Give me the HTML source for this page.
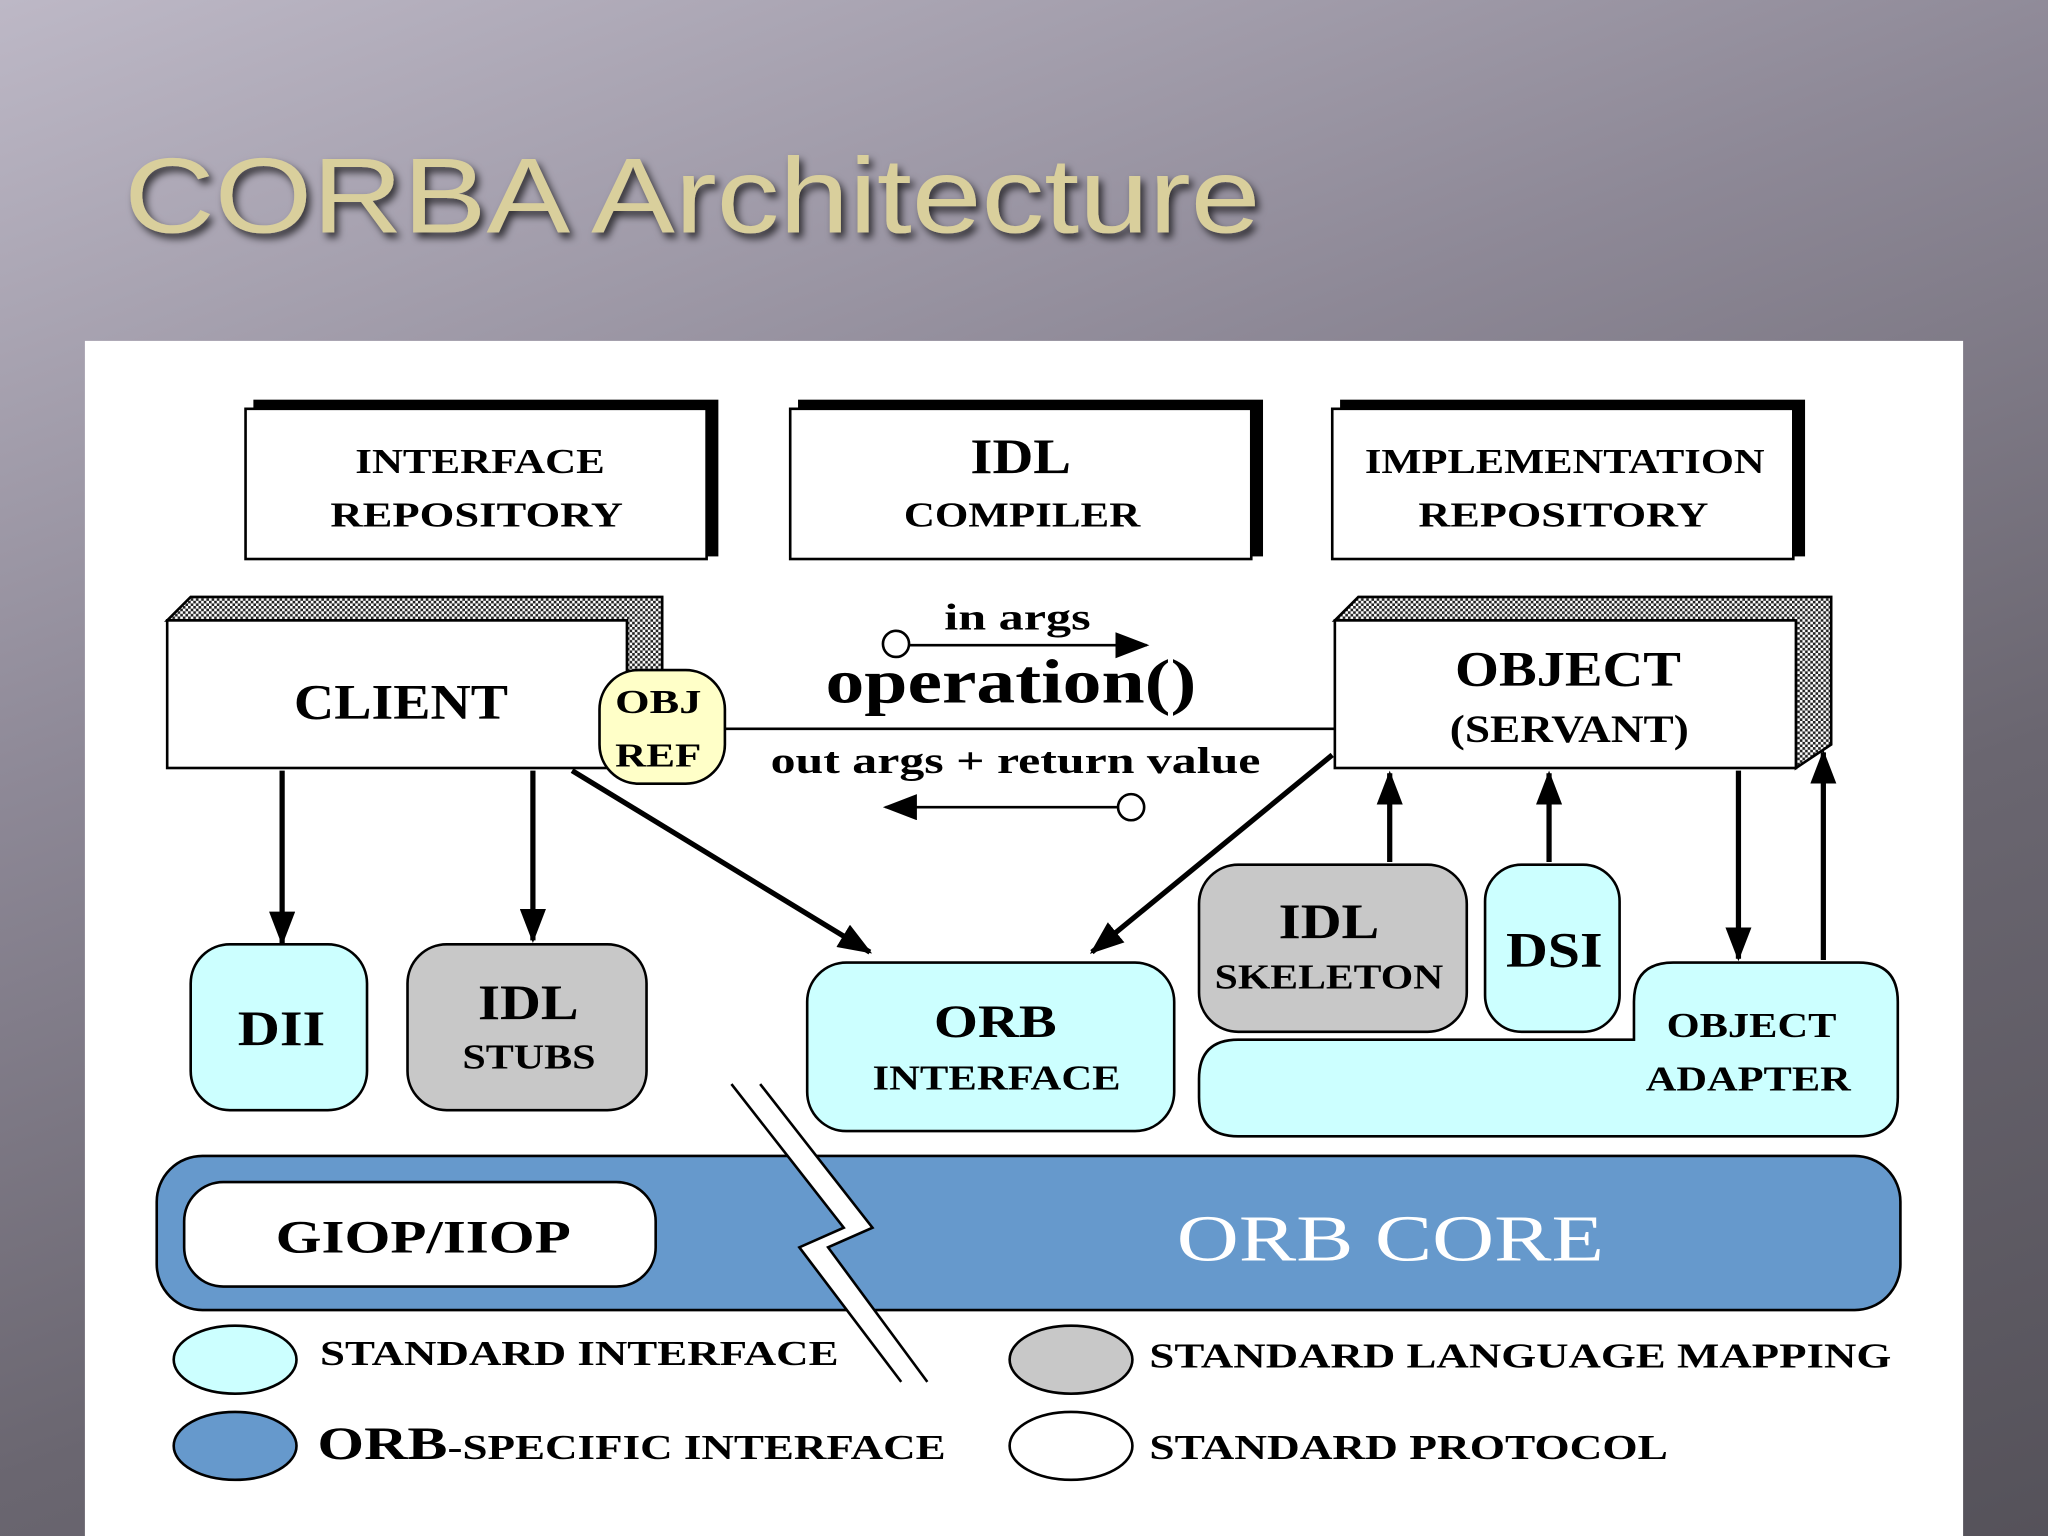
<!DOCTYPE html>
<html><head><meta charset="utf-8"><style>
html,body{margin:0;padding:0;width:2048px;height:1536px;overflow:hidden}
body{background:linear-gradient(160deg,#bdb8c6 0%,#8d8896 35%,#6a6670 65%,#55525a 100%)}
</style></head><body>
<svg width="2048" height="1536" viewBox="0 0 1568 1176" xmlns="http://www.w3.org/2000/svg" style="position:absolute;left:0;top:0">
<defs>
<pattern id="h" width="4" height="4" patternUnits="userSpaceOnUse"><rect width="4" height="4" fill="#fff"/><rect width="2" height="2" fill="#222"/><rect x="2" y="2" width="2" height="2" fill="#222"/></pattern>
<marker id="b" markerWidth="26" markerHeight="20" refX="24" refY="10" orient="auto" markerUnits="userSpaceOnUse"><path d="M0,0 L26,10 L0,20z"/></marker>
<filter id="sh"><feDropShadow dx="3" dy="4" stdDeviation="3" flood-color="#000" flood-opacity="0.7"/></filter>
</defs>
<text x="95" y="178" font-family="Liberation Sans,sans-serif" font-size="82" fill="#d9cf9c" filter="url(#sh)" textLength="870" lengthAdjust="spacingAndGlyphs">CORBA Architecture</text>
<rect x="65" y="261" width="1438" height="915" fill="#fff"/>
<g font-family="Liberation Serif,serif" font-weight="bold" text-anchor="start" fill="#000">
<g stroke="#000" stroke-width="2">
<rect x="195" y="307" width="354" height="118" fill="#000"/>
<rect x="188" y="313" width="353" height="115" fill="#fff"/>
<rect x="612" y="307" width="354" height="118" fill="#000"/>
<rect x="605" y="313" width="353" height="115" fill="#fff"/>
<rect x="1027" y="307" width="354" height="118" fill="#000"/>
<rect x="1020" y="313" width="353" height="115" fill="#fff"/>
</g>
<text x="272" y="362" font-size="27" textLength="191" lengthAdjust="spacingAndGlyphs">INTERFACE</text>
<text x="253" y="403" font-size="27" textLength="224" lengthAdjust="spacingAndGlyphs">REPOSITORY</text>
<text x="743" y="362" font-size="38" textLength="77" lengthAdjust="spacingAndGlyphs">IDL</text>
<text x="692" y="403" font-size="27" textLength="181" lengthAdjust="spacingAndGlyphs">COMPILER</text>
<text x="1045" y="362" font-size="27" textLength="306" lengthAdjust="spacingAndGlyphs">IMPLEMENTATION</text>
<text x="1086" y="403" font-size="27" textLength="222" lengthAdjust="spacingAndGlyphs">REPOSITORY</text>
<path d="M128,475 L146,457 L507,457 L507,570 L480,588 L480,475z" fill="url(#h)" stroke="#000" stroke-width="2"/>
<rect x="128" y="475" width="352" height="113" fill="#fff" stroke="#000" stroke-width="2"/>
<text x="225" y="550" font-size="38" textLength="164" lengthAdjust="spacingAndGlyphs">CLIENT</text>
<line x1="555" y1="558" x2="1022" y2="558" stroke="#000" stroke-width="2"/>
<rect x="459" y="513" width="96" height="87" rx="30" fill="#ffffc8" stroke="#000" stroke-width="2"/>
<text x="471" y="546" font-size="26" textLength="66" lengthAdjust="spacingAndGlyphs">OBJ</text>
<text x="471" y="587" font-size="26" textLength="66" lengthAdjust="spacingAndGlyphs">REF</text>
<path d="M1022,475 L1040,457 L1402,457 L1402,570 L1375,588 L1375,475z" fill="url(#h)" stroke="#000" stroke-width="2"/>
<rect x="1022" y="475" width="353" height="113" fill="#fff" stroke="#000" stroke-width="2"/>
<text x="1114" y="525" font-size="38" textLength="173" lengthAdjust="spacingAndGlyphs">OBJECT</text>
<text x="1110" y="568" font-size="30" textLength="183" lengthAdjust="spacingAndGlyphs">(SERVANT)</text>
<text x="723" y="482" font-size="28" textLength="112" lengthAdjust="spacingAndGlyphs">in  args</text>
<circle cx="686" cy="493" r="10" fill="#fff" stroke="#000" stroke-width="2"/>
<line x1="696" y1="494" x2="878" y2="494" stroke="#000" stroke-width="2" marker-end="url(#b)"/>
<text x="632" y="538" font-size="48" textLength="284" lengthAdjust="spacingAndGlyphs">operation()</text>
<text x="590" y="592" font-size="28" textLength="375" lengthAdjust="spacingAndGlyphs">out  args + return  value</text>
<circle cx="866" cy="618" r="10" fill="#fff" stroke="#000" stroke-width="2"/>
<line x1="856" y1="618" x2="678" y2="618" stroke="#000" stroke-width="2" marker-end="url(#b)"/>
<g stroke="#000" stroke-width="4">
<line x1="216" y1="590" x2="216" y2="722" marker-end="url(#b)"/>
<line x1="408" y1="590" x2="408" y2="720" marker-end="url(#b)"/>
<line x1="438" y1="590" x2="666" y2="729" marker-end="url(#b)"/>
<line x1="1020" y1="578" x2="836" y2="729" marker-end="url(#b)"/>
<line x1="1064" y1="660" x2="1064" y2="592" marker-end="url(#b)"/>
<line x1="1186" y1="660" x2="1186" y2="592" marker-end="url(#b)"/>
<line x1="1331" y1="590" x2="1331" y2="734" marker-end="url(#b)"/>
<line x1="1396" y1="735" x2="1396" y2="576" marker-end="url(#b)"/>
</g>
<g stroke="#000" stroke-width="2">
<rect x="146" y="723" width="135" height="127" rx="30" fill="#ccffff"/>
<rect x="312" y="723" width="183" height="127" rx="30" fill="#c8c8c8"/>
<rect x="618" y="737" width="281" height="129" rx="30" fill="#ccffff"/>
<path d="M948,796 L1251,796 L1251,767 Q1251,737 1281,737 L1423,737 Q1453,737 1453,767 L1453,840 Q1453,870 1423,870 L948,870 Q918,870 918,840 L918,826 Q918,796 948,796z" fill="#ccffff"/>
<rect x="918" y="662" width="205" height="128" rx="30" fill="#c8c8c8"/>
<rect x="1137" y="662" width="103" height="128" rx="28" fill="#ccffff"/>
</g>
<text x="182" y="800" font-size="38" textLength="67" lengthAdjust="spacingAndGlyphs">DII</text>
<text x="366" y="780" font-size="38" textLength="77" lengthAdjust="spacingAndGlyphs">IDL</text>
<text x="354" y="818" font-size="27" textLength="102" lengthAdjust="spacingAndGlyphs">STUBS</text>
<text x="715" y="794" font-size="36" textLength="94" lengthAdjust="spacingAndGlyphs">ORB</text>
<text x="668" y="834" font-size="27" textLength="190" lengthAdjust="spacingAndGlyphs">INTERFACE</text>
<text x="979" y="718" font-size="38" textLength="77" lengthAdjust="spacingAndGlyphs">IDL</text>
<text x="930" y="757" font-size="27" textLength="175" lengthAdjust="spacingAndGlyphs">SKELETON</text>
<text x="1153" y="740" font-size="38" textLength="74" lengthAdjust="spacingAndGlyphs">DSI</text>
<text x="1276" y="794" font-size="27" textLength="130" lengthAdjust="spacingAndGlyphs">OBJECT</text>
<text x="1260" y="835" font-size="27" textLength="157" lengthAdjust="spacingAndGlyphs">ADAPTER</text>
<rect x="120" y="885" width="1335" height="118" rx="35" fill="#6699cc" stroke="#000" stroke-width="2"/>
<rect x="141" y="905" width="361" height="80" rx="30" fill="#fff" stroke="#000" stroke-width="2"/>
<text x="211" y="959" font-size="36" textLength="226" lengthAdjust="spacingAndGlyphs">GIOP/IIOP</text>
<text x="901" y="965" font-size="50" fill="#fff" font-weight="normal" textLength="327" lengthAdjust="spacingAndGlyphs">ORB  CORE</text>
<path d="M560,830 L646,940 L612,955 L690,1058 L710,1058 L634,955 L668,940 L582,830z" fill="#fff" stroke="none"/>
<polyline points="560,830 646,940 612,955 690,1058" fill="none" stroke="#000" stroke-width="2"/>
<polyline points="582,830 668,940 634,955 710,1058" fill="none" stroke="#000" stroke-width="2"/>
<g stroke="#000" stroke-width="2">
<ellipse cx="180" cy="1041" rx="47" ry="26" fill="#ccffff"/>
<ellipse cx="180" cy="1107" rx="47" ry="26" fill="#6699cc"/>
<ellipse cx="820" cy="1041" rx="47" ry="26" fill="#c8c8c8"/>
<ellipse cx="820" cy="1107" rx="47" ry="26" fill="#fff"/>
</g>
<g font-size="27">
<text x="245" y="1045" textLength="397" lengthAdjust="spacingAndGlyphs">STANDARD  INTERFACE</text>
<text x="243" y="1117" textLength="481" lengthAdjust="spacingAndGlyphs"><tspan font-size="36">ORB</tspan>-SPECIFIC  INTERFACE</text>
<text x="880" y="1047" textLength="568" lengthAdjust="spacingAndGlyphs">STANDARD  LANGUAGE  MAPPING</text>
<text x="880" y="1117" textLength="397" lengthAdjust="spacingAndGlyphs">STANDARD  PROTOCOL</text>
</g>
</g>
</svg>
</body></html>
